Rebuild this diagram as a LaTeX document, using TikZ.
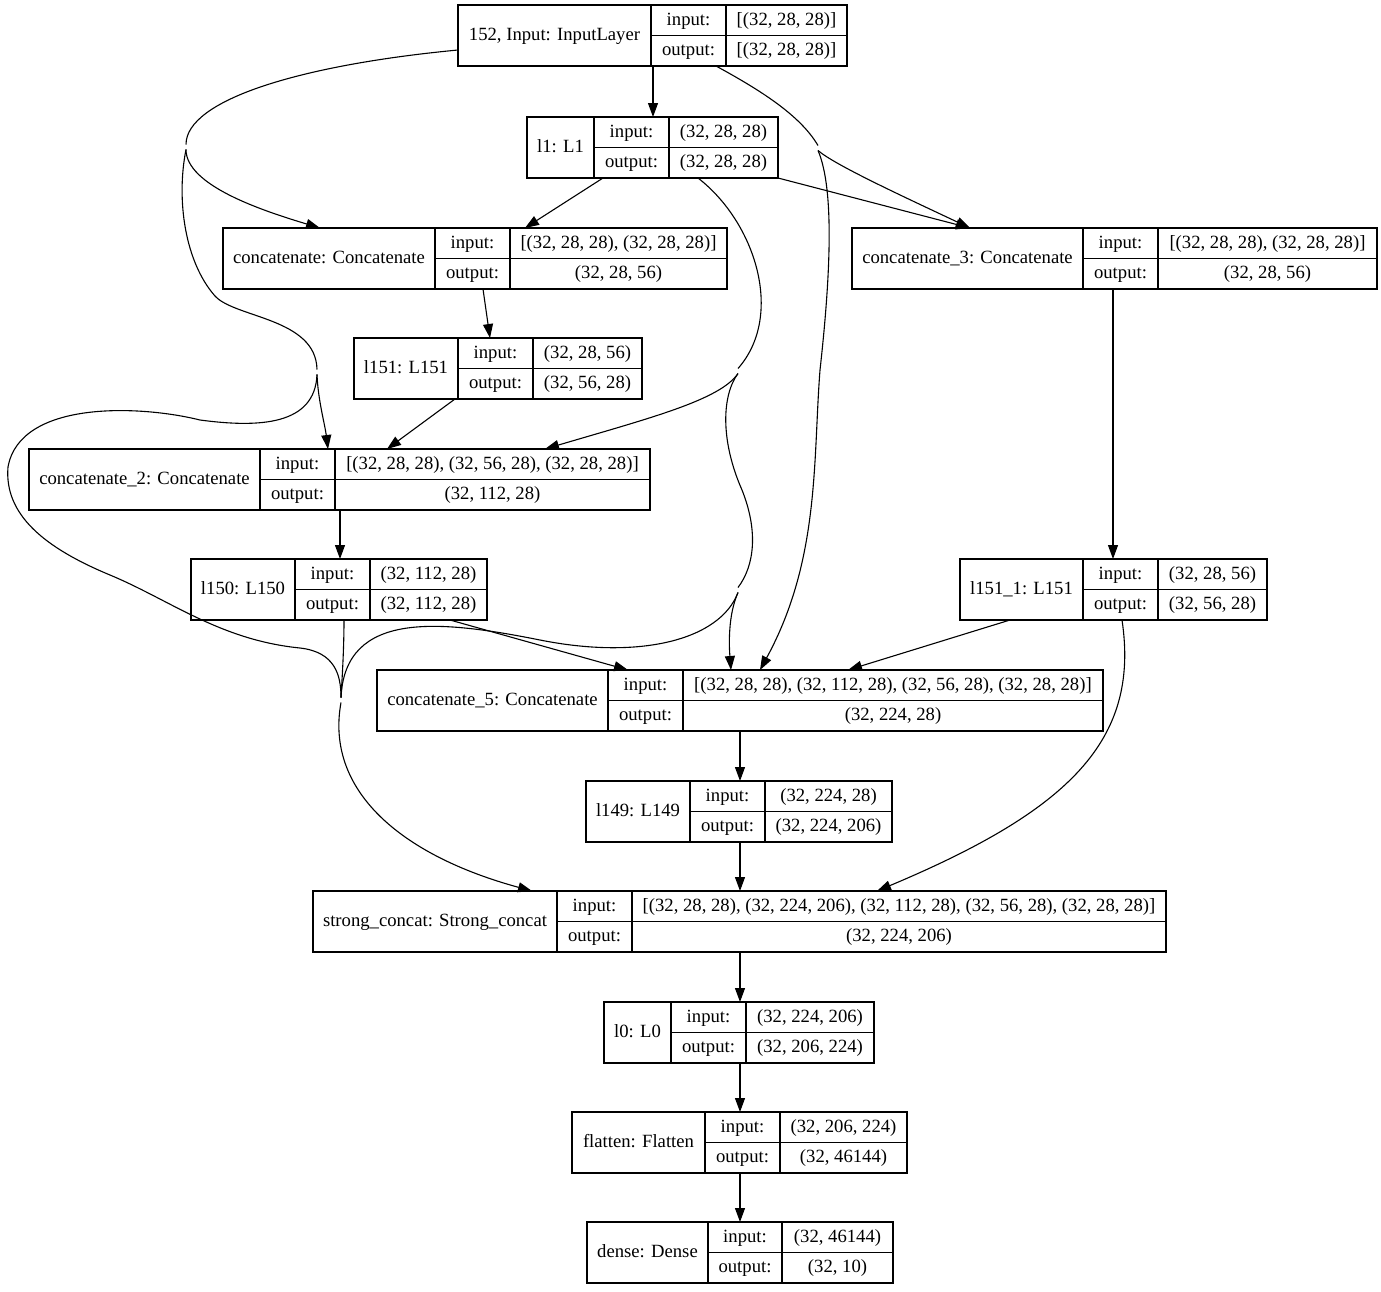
\documentclass[tikz,border=0pt]{standalone}
\usepackage{fontspec}
\setmainfont{Liberation Serif}
\usetikzlibrary{arrows.meta}
% one record box: name, left, top, label/port/value widths, label, input, output
\newcommand{\kerasbox}[9]{%
    \node[layerbox, minimum width={#4+#5+#6}, anchor=north west] (#1) at (#2,#3) {};
    \draw[boxline] ([xshift=#4]#1.north west) -- ([xshift=#4]#1.south west);
    \draw[boxline] ([xshift={#4+#5}]#1.north west) -- ([xshift={#4+#5}]#1.south west);
    \draw[boxline] ([xshift=#4]#1.west) -- (#1.east);
    \node[celltext] (#1-name) at ([xshift={#4/2}]#1.west) {#7};
    \node[celltext] (#1-in) at ([xshift={#4+#5/2}, yshift=15.25]#1.west) {input:};
    \node[celltext] (#1-out) at ([xshift={#4+#5/2}, yshift=-15.25]#1.west) {output:};
    \node[celltext] (#1-inval) at ([xshift={#4+#5+#6/2}, yshift=15.25]#1.west) {#8};
    \node[celltext] (#1-outval) at ([xshift={#4+#5+#6/2}, yshift=-15.25]#1.west) {#9};
}

\begin{document}
\begin{tikzpicture}[
        x=1pt, y=-1pt,
        layerbox/.style={draw=black, line width=1.2pt, minimum height=61pt, inner sep=0pt, outer sep=0pt},
        boxline/.style={line width=1.2pt},
        celltext/.style={inner sep=0pt, text height=13.5pt, text depth=3.5pt, font=\fontsize{18.67}{22}\selectfont},
        link/.style={line width=1.1pt},
        arrowlink/.style={line width=1.1pt, -{Triangle[length=14pt, width=10pt]}}
    ]
        % Canvas
        \fill[white] (0,0) rectangle (1381,1291);
        \useasboundingbox (0,0) rectangle (1381,1291);
        % Layers
        \kerasbox{input}{458}{5}{193}{75}{121}{152, Input: InputLayer}{[(32, 28, 28)]}{[(32, 28, 28)]}
        \kerasbox{l1}{527}{117}{67}{75}{109}{l1: L1}{(32, 28, 28)}{(32, 28, 28)}
        \kerasbox{cat}{223}{228}{212}{75}{217}{concatenate: Concatenate}{[(32, 28, 28), (32, 28, 28)]}{(32, 28, 56)}
        \kerasbox{catthree}{852}{228}{231}{75}{219}{concatenate\_3: Concatenate}{[(32, 28, 28), (32, 28, 28)]}{(32, 28, 56)}
        \kerasbox{l151}{354}{338}{104}{75}{109}{l151: L151}{(32, 28, 56)}{(32, 56, 28)}
        \kerasbox{cattwo}{29}{449}{231}{75}{315}{concatenate\_2: Concatenate}{[(32, 28, 28), (32, 56, 28), (32, 28, 28)]}{(32, 112, 28)}
        \kerasbox{l150}{191}{559}{104}{75}{117}{l150: L150}{(32, 112, 28)}{(32, 112, 28)}
        \kerasbox{l151b}{960}{559}{123}{75}{109}{l151\_1: L151}{(32, 28, 56)}{(32, 56, 28)}
        \kerasbox{catfive}{377}{670}{231}{75}{420}{concatenate\_5: Concatenate}{[(32, 28, 28), (32, 112, 28), (32, 56, 28), (32, 28, 28)]}{(32, 224, 28)}
        \kerasbox{l149}{586}{781}{104}{75}{127}{l149: L149}{(32, 224, 28)}{(32, 224, 206)}
        \kerasbox{strong}{313}{891}{244}{75}{534}{strong\_concat: Strong\_concat}{[(32, 28, 28), (32, 224, 206), (32, 112, 28), (32, 56, 28), (32, 28, 28)]}{(32, 224, 206)}
        \kerasbox{l0}{604}{1002}{67}{75}{128}{l0: L0}{(32, 224, 206)}{(32, 206, 224)}
        \kerasbox{flatten}{572}{1112}{133}{75}{127}{flatten: Flatten}{(32, 206, 224)}{(32, 46144)}
        \kerasbox{dense}{587}{1222}{121}{74}{111}{dense: Dense}{(32, 46144)}{(32, 10)}
        % Merge points of the joined edges
        \coordinate (jtop) at (186,147);
        \coordinate (jleft) at (317,372);
        \coordinate (jlow) at (341,700);
        \coordinate (jright) at (818,148);
        \coordinate (jmid) at (738,371);
        \coordinate (jmidlow) at (738,590);
        % Straight connections
        \draw[arrowlink] ([xshift=195pt]input.south west) -- ([xshift=126pt]l1.north west);
        \draw[arrowlink] ([xshift=76pt]l1.south west) -- ([xshift=302pt]cat.north west);
        \draw[arrowlink] (l1.south east) -- ([xshift=118pt]catthree.north west);
        \draw[arrowlink] ([xshift=260pt]cat.south west) -- ([xshift=136pt]l151.north west);
        \draw[arrowlink] ([xshift=101pt]l151.south west) -- ([xshift=358pt]cattwo.north west);
        \draw[arrowlink] ([xshift=311pt]cattwo.south west) -- ([xshift=149pt]l150.north west);
        \draw[arrowlink] ([xshift=259pt]l150.south west) -- ([xshift=251pt]catfive.north west);
        \draw[arrowlink] ([xshift=261pt]catthree.south west) -- ([xshift=153pt]l151b.north west);
        \draw[arrowlink] ([xshift=50pt]l151b.south west) -- ([xshift=471pt]catfive.north west);
        \draw[arrowlink] ([xshift=363pt]catfive.south west) -- ([xshift=154pt]l149.north west);
        \draw[arrowlink] ([xshift=154pt]l149.south west) -- ([xshift=427pt]strong.north west);
        \draw[arrowlink] ([xshift=427pt]strong.south west) -- ([xshift=136pt]l0.north west);
        \draw[arrowlink] ([xshift=136pt]l0.south west) -- ([xshift=168pt]flatten.north west);
        \draw[arrowlink] ([xshift=168pt]flatten.south west) -- ([xshift=153pt]dense.north west);
        % Curved connections, left side
        \draw[link] ([yshift=-14.5pt]input.west) .. controls (300,65) and (186,100) .. ([yshift=2.5pt]jtop);
        \draw[arrowlink] ([yshift=-2.5pt]jtop) .. controls (186,185) and (260,210) .. ([xshift=97pt]cat.north west);
        \draw[link] ([yshift=-2.5pt]jtop) .. controls (176,200) and (185,262) .. (215,296)
            .. controls (235,318) and (316,318) .. ([yshift=2.5pt]jleft);
        \draw[arrowlink] ([yshift=-2.5pt]jleft) .. controls (318,400) and (325,425) .. ([xshift=299pt]cattwo.north west);
        \draw[link] ([yshift=-2.5pt]jleft) .. controls (315,425) and (260,428) .. (200,420)
            .. controls (140,405) and (20,400) .. (8,467)
            .. controls (4,515) and (45,548) .. (110,575)
            .. controls (170,600) and (220,640) .. (300,648)
            .. controls (335,652) and (341,675) .. ([yshift=2.5pt]jlow);
        \draw[link] ([xshift=153pt]l150.south west) .. controls (344,650) and (342,680) .. ([yshift=2.5pt]jlow);
        \draw[arrowlink] ([yshift=-2.5pt]jlow) .. controls (325,790) and (400,855) .. ([xshift=219pt]strong.north west);
        % Curved connections, right side
        \draw[link] ([xshift=258pt]input.south west) .. controls (760,90) and (800,115) .. ([yshift=2.5pt]jright);
        \draw[arrowlink] ([yshift=-2.5pt]jright) .. controls (835,165) and (900,195) .. ([xshift=118pt]catthree.north west);
        \draw[arrowlink] ([yshift=-2.5pt]jright) .. controls (835,190) and (830,280) .. (820,370)
            .. controls (813,460) and (820,560) .. ([xshift=383pt]catfive.north west);
        \draw[link] ([xshift=171pt]l1.south west) .. controls (755,222) and (785,315) .. ([yshift=2.5pt]jmid);
        \draw[arrowlink] ([yshift=-2.5pt]jmid) .. controls (720,400) and (650,418) .. ([xshift=516pt]cattwo.north west);
        \draw[link] ([yshift=-2.5pt]jmid) .. controls (722,395) and (720,440) .. (742,490)
            .. controls (758,530) and (755,565) .. ([yshift=2.5pt]jmidlow);
        \draw[arrowlink] ([yshift=-2.5pt]jmidlow) .. controls (728,615) and (729,645) .. ([xshift=354pt]catfive.north west);
        \draw[link] ([yshift=-2.5pt]jmidlow) .. controls (720,640) and (640,660) .. (540,640)
            .. controls (440,620) and (345,610) .. ([yshift=2.5pt]jlow);
        \draw[arrowlink] ([xshift=162pt]l151b.south west) .. controls (1140,740) and (1070,810) .. ([xshift=564pt]strong.north west);
    \end{tikzpicture}
\end{document}
